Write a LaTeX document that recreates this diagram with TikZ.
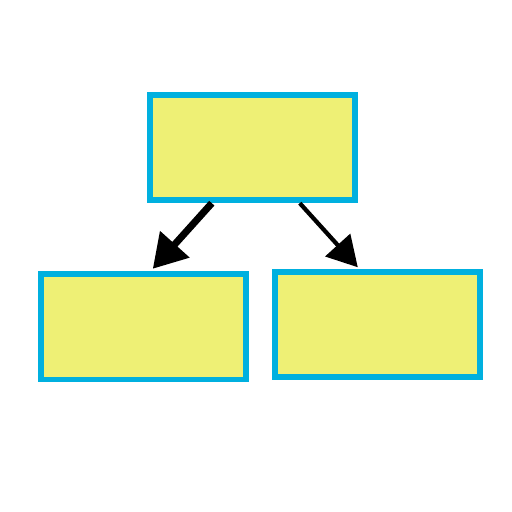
\documentclass[tikz,border=0pt]{standalone}
\usetikzlibrary{arrows.meta}
\definecolor{boxfill}{HTML}{EEF075}
\definecolor{boxline}{HTML}{00B0DF}
\begin{document}
\begin{tikzpicture}[x=0.02cm,y=-0.02cm,
    box/.style={draw=boxline,fill=boxfill,line width=3.4pt,minimum width=4.1cm,minimum height=2.1cm,inner sep=0pt}]
      \useasboundingbox (0,0) rectangle (512,512);
      \node[box] (T) at (252.8,147.7) {};
      \node[box,minimum height=2.12cm] (L) at (143.8,326.5) {};
      \node[box] (R) at (377.8,324.5) {};
      \draw[line width=4pt,-{Triangle[length=0.66cm,width=0.76cm]}] ([xshift=-0.82cm,yshift=0pt]T.south) -- ([xshift=0.18cm,yshift=1pt]L.north);
      \draw[line width=2.4pt,-{Triangle[length=0.6cm,width=0.66cm]}] ([xshift=0.94cm,yshift=0pt]T.south) -- ([xshift=-0.4cm,yshift=1pt]R.north);
    \end{tikzpicture}
\end{document}
